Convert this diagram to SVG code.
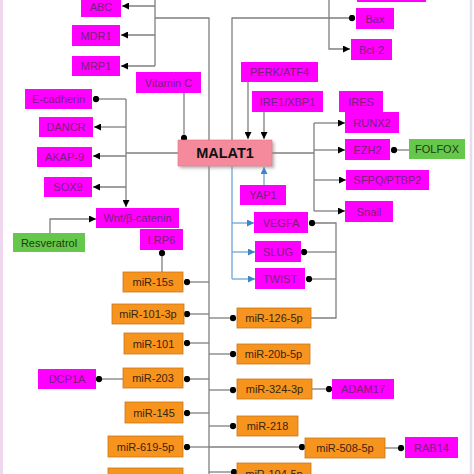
<svg xmlns="http://www.w3.org/2000/svg" width="474" height="474" viewBox="0 0 474 474">
<style>
.m{fill:#ff00ff}
.o{fill:#f7941d;stroke:#c8771c;stroke-width:0.8}
.g{fill:#66c84a}
.t{font-family:"Liberation Sans",Arial,sans-serif;font-size:11px;text-anchor:middle}
.tm{fill:#7a1f7a}
.to{fill:#3a2410}
.tg{fill:#1f3a12}
.c{fill:none;stroke:#7f7f7f;stroke-width:1.3}
.b{fill:none;stroke:#6fa3d6;stroke-width:1.3}
</style>
<defs>
<marker id="ar" viewBox="0 0 8 8" refX="8" refY="4" markerWidth="7" markerHeight="7" markerUnits="userSpaceOnUse" orient="auto"><path d="M0,0 L8,4 L0,8 z" fill="#000"/></marker>
<marker id="ab" viewBox="0 0 8 8" refX="8" refY="4" markerWidth="7" markerHeight="7" markerUnits="userSpaceOnUse" orient="auto"><path d="M0,0 L8,4 L0,8 z" fill="#3d85c6"/></marker>
<marker id="dt" viewBox="0 0 8 8" refX="4" refY="4" markerWidth="7" markerHeight="7" markerUnits="userSpaceOnUse" orient="auto"><circle cx="4" cy="4" r="3.6" fill="#000"/></marker>
<filter id="sh" x="-10%" y="-20%" width="130%" height="160%"><feDropShadow dx="2" dy="2" stdDeviation="1.5" flood-color="#888" flood-opacity="0.6"/></filter>
</defs>
<rect x="0" y="0" width="474" height="474" fill="#fff"/>
<line x1="1.5" y1="0" x2="1.5" y2="474" stroke="#efd8ef" stroke-width="3"/>
<line x1="471" y1="0" x2="471" y2="474" stroke="#e6def0" stroke-width="2.5"/>

<g id="connectors">
<path class="c" d="M209,140 V18 H155"/>
<path class="c" d="M155,-2 V66"/>
<path class="c" d="M155,6 H122" marker-end="url(#ar)"/>
<path class="c" d="M155,35 H121" marker-end="url(#ar)"/>
<path class="c" d="M155,66 H121" marker-end="url(#ar)"/>
<path class="c" d="M232,140 V18 H352" marker-end="url(#dt)"/>
<path class="c" d="M329,-2 V49 H350" marker-end="url(#ar)"/>
<path class="c" d="M184,93 V138" marker-end="url(#dt)"/>
<path class="c" d="M248,82 V139" marker-end="url(#ar)"/>
<path class="c" d="M264,112 V139" marker-end="url(#ar)"/>
<path class="c" d="M178,153 H126"/>
<path class="c" d="M126,99 V207" marker-end="url(#ar)"/>
<path class="c" d="M126,99 H96" marker-end="url(#dt)"/>
<path class="c" d="M126,127 H94" marker-end="url(#ar)"/>
<path class="c" d="M126,156 H93" marker-end="url(#ar)"/>
<path class="c" d="M126,187 H93" marker-end="url(#ar)"/>
<path class="c" d="M50,233 V219 H96" marker-end="url(#ar)"/>
<path class="c" d="M162,272 V253" marker-end="url(#dt)"/>
<path class="c" d="M272,153 H314"/>
<path class="c" d="M314,123 V211"/>
<path class="c" d="M314,123 H345" marker-end="url(#ar)"/>
<path class="c" d="M314,150 H345" marker-end="url(#ar)"/>
<path class="c" d="M314,180 H346" marker-end="url(#ar)"/>
<path class="c" d="M314,211 H345" marker-end="url(#ar)"/>
<path class="c" d="M409,150 H394" marker-end="url(#dt)"/>
<path class="b" d="M264,185 V167" marker-end="url(#ab)"/>
<path class="b" d="M232,166 V279"/>
<path class="b" d="M232,223 H254" marker-end="url(#ab)"/>
<path class="b" d="M232,252 H255" marker-end="url(#ab)"/>
<path class="b" d="M232,279 H255" marker-end="url(#ab)"/>
<path class="c" d="M311,318 H336 V223 H312" marker-end="url(#dt)"/>
<path class="c" d="M336,252 H304" marker-end="url(#dt)"/>
<path class="c" d="M336,279 H309" marker-end="url(#dt)"/>
<path class="c" d="M209,166 V476"/>
<path class="c" d="M209,282 H187" marker-end="url(#dt)"/>
<path class="c" d="M209,314 H187" marker-end="url(#dt)"/>
<path class="c" d="M209,343 H187" marker-end="url(#dt)"/>
<path class="c" d="M209,379 H187" marker-end="url(#dt)"/>
<path class="c" d="M209,413 H187" marker-end="url(#dt)"/>
<path class="c" d="M209,447 H187" marker-end="url(#dt)"/>
<path class="c" d="M209,447 H302" marker-end="url(#dt)"/>
<path class="c" d="M123,379 H99" marker-end="url(#dt)"/>
<path class="c" d="M209,318 H233" marker-end="url(#dt)"/>
<path class="c" d="M209,354 H233" marker-end="url(#dt)"/>
<path class="c" d="M209,390 H233" marker-end="url(#dt)"/>
<path class="c" d="M209,426 H233" marker-end="url(#dt)"/>
<path class="c" d="M209,472 H234" marker-end="url(#dt)"/>
<path class="c" d="M312,389 H329" marker-end="url(#dt)"/>
<path class="c" d="M385,448 H401" marker-end="url(#dt)"/>
</g>

<g id="top-partial"><rect class="m" x="357" y="-20" width="69" height="22"/></g>
<g id="abc"><rect class="m" x="81" y="-3" width="40" height="20"/><text class="t tm" x="101" y="11">ABC</text></g>
<g id="mdr1"><rect class="m" x="72" y="25" width="48" height="21"/><text class="t tm" x="96" y="39.5">MDR1</text></g>
<g id="mrp1"><rect class="m" x="72" y="56" width="48" height="20"/><text class="t tm" x="96" y="70">MRP1</text></g>
<g id="vitc"><rect class="m" x="136" y="72" width="65" height="21"/><text class="t tm" x="168.5" y="86.5">Vitamin C</text></g>
<g id="ecad"><rect class="m" x="25" y="89" width="67" height="20"/><text class="t tm" x="58.5" y="103">E-cadherin</text></g>
<g id="dancr"><rect class="m" x="39" y="117" width="54" height="20"/><text class="t tm" x="66" y="131">DANCR</text></g>
<g id="akap9"><rect class="m" x="37" y="147" width="55" height="20"/><text class="t tm" x="64.5" y="161">AKAP-9</text></g>
<g id="sox9"><rect class="m" x="44" y="177" width="48" height="20"/><text class="t tm" x="68" y="191">SOX9</text></g>
<g id="wnt"><rect class="m" x="96" y="208" width="83" height="20"/><text class="t tm" x="137.5" y="222">Wnt/β-catenin</text></g>
<g id="lrp6"><rect class="m" x="140" y="229" width="43" height="21"/><text class="t tm" x="161.5" y="243.5">LRP6</text></g>
<g id="resv"><rect class="g" x="13" y="233" width="72" height="19"/><text class="t tg" x="49" y="246.5">Resveratrol</text></g>
<g id="perk"><rect class="m" x="241" y="62" width="77" height="20"/><text class="t tm" x="279.5" y="76">PERK/ATF4</text></g>
<g id="ire1"><rect class="m" x="252" y="91" width="71" height="21"/><text class="t tm" x="287.5" y="105.5">IRE1/XBP1</text></g>
<g id="ires"><rect class="m" x="339" y="91" width="44" height="21"/><text class="t tm" x="361" y="105.5">IRES</text></g>
<g id="runx2"><rect class="m" x="345" y="112" width="54" height="21"/><text class="t tm" x="372" y="126.5">RUNX2</text></g>
<g id="ezh2"><rect class="m" x="345" y="139" width="45" height="21"/><text class="t tm" x="367.5" y="153.5">EZH2</text></g>
<g id="folfox"><rect class="g" x="409" y="139" width="56" height="20"/><text class="t tg" x="437" y="153">FOLFOX</text></g>
<g id="sfpq"><rect class="m" x="346" y="170" width="83" height="20"/><text class="t tm" x="387.5" y="184">SFPQ/PTBP2</text></g>
<g id="snail"><rect class="m" x="345" y="201" width="48" height="21"/><text class="t tm" x="369" y="215.5">Snail</text></g>
<g id="yap1"><rect class="m" x="240" y="185" width="46" height="20"/><text class="t tm" x="263" y="199">YAP1</text></g>
<g id="vegfa"><rect class="m" x="254" y="212" width="54" height="21"/><text class="t tm" x="281" y="226.5">VEGFA</text></g>
<g id="slug"><rect class="m" x="255" y="241" width="46" height="21"/><text class="t tm" x="278" y="255.5">SLUG</text></g>
<g id="twist"><rect class="m" x="255" y="268" width="50" height="21"/><text class="t tm" x="280" y="282.5">TWIST</text></g>
<g id="bax"><rect class="m" x="356" y="8" width="38" height="21"/><text class="t tm" x="375" y="22.5">Bax</text></g>
<g id="bcl2"><rect class="m" x="351" y="39" width="41" height="21"/><text class="t tm" x="371.5" y="53.5">Bcl-2</text></g>
<g id="dcp1a"><rect class="m" x="38" y="369" width="58" height="20"/><text class="t tm" x="67" y="383">DCP1A</text></g>
<g id="adam17"><rect class="m" x="332" y="379" width="62" height="20"/><text class="t tm" x="363" y="393">ADAM17</text></g>
<g id="rab14"><rect class="m" x="405" y="437" width="53" height="21"/><text class="t tm" x="431.5" y="451.5">RAB14</text></g>

<g id="malat1"><rect x="178" y="140" width="94" height="26" fill="#f48a9b" stroke="#e27888" stroke-width="0.6" filter="url(#sh)"/><text x="225" y="158" font-family="'Liberation Sans',Arial,sans-serif" font-size="14.5" font-weight="bold" text-anchor="middle" fill="#111">MALAT1</text></g>

<g id="mir15s"><rect class="o" x="123" y="272" width="60" height="20"/><text class="t to" x="153" y="286">miR-15s</text></g>
<g id="mir1013p"><rect class="o" x="112" y="304" width="72" height="20"/><text class="t to" x="148" y="318">miR-101-3p</text></g>
<g id="mir101"><rect class="o" x="124" y="333" width="59" height="21"/><text class="t to" x="153.5" y="347.5">miR-101</text></g>
<g id="mir203"><rect class="o" x="123" y="368" width="60" height="20"/><text class="t to" x="153" y="382">miR-203</text></g>
<g id="mir145"><rect class="o" x="125" y="402" width="58" height="21"/><text class="t to" x="154" y="416.5">miR-145</text></g>
<g id="mir6195p"><rect class="o" x="108" y="436" width="75" height="21"/><text class="t to" x="145.5" y="450.5">miR-619-5p</text></g>
<g id="bottom-left-partial"><rect class="o" x="108" y="468" width="75" height="22"/></g>
<g id="mir1265p"><rect class="o" x="237" y="308" width="74" height="20"/><text class="t to" x="274" y="322">miR-126-5p</text></g>
<g id="mir20b5p"><rect class="o" x="237" y="344" width="73" height="20"/><text class="t to" x="273.5" y="358">miR-20b-5p</text></g>
<g id="mir3243p"><rect class="o" x="237" y="379" width="75" height="20"/><text class="t to" x="274.5" y="393">miR-324-3p</text></g>
<g id="mir218"><rect class="o" x="237" y="416" width="61" height="20"/><text class="t to" x="267.5" y="430">miR-218</text></g>
<g id="mir5085p"><rect class="o" x="305" y="438" width="80" height="20"/><text class="t to" x="345" y="452">miR-508-5p</text></g>
<g id="mir1045p"><rect class="o" x="237" y="463" width="74" height="22"/><text class="t to" x="274" y="478">miR-104-5p</text></g>
</svg>
